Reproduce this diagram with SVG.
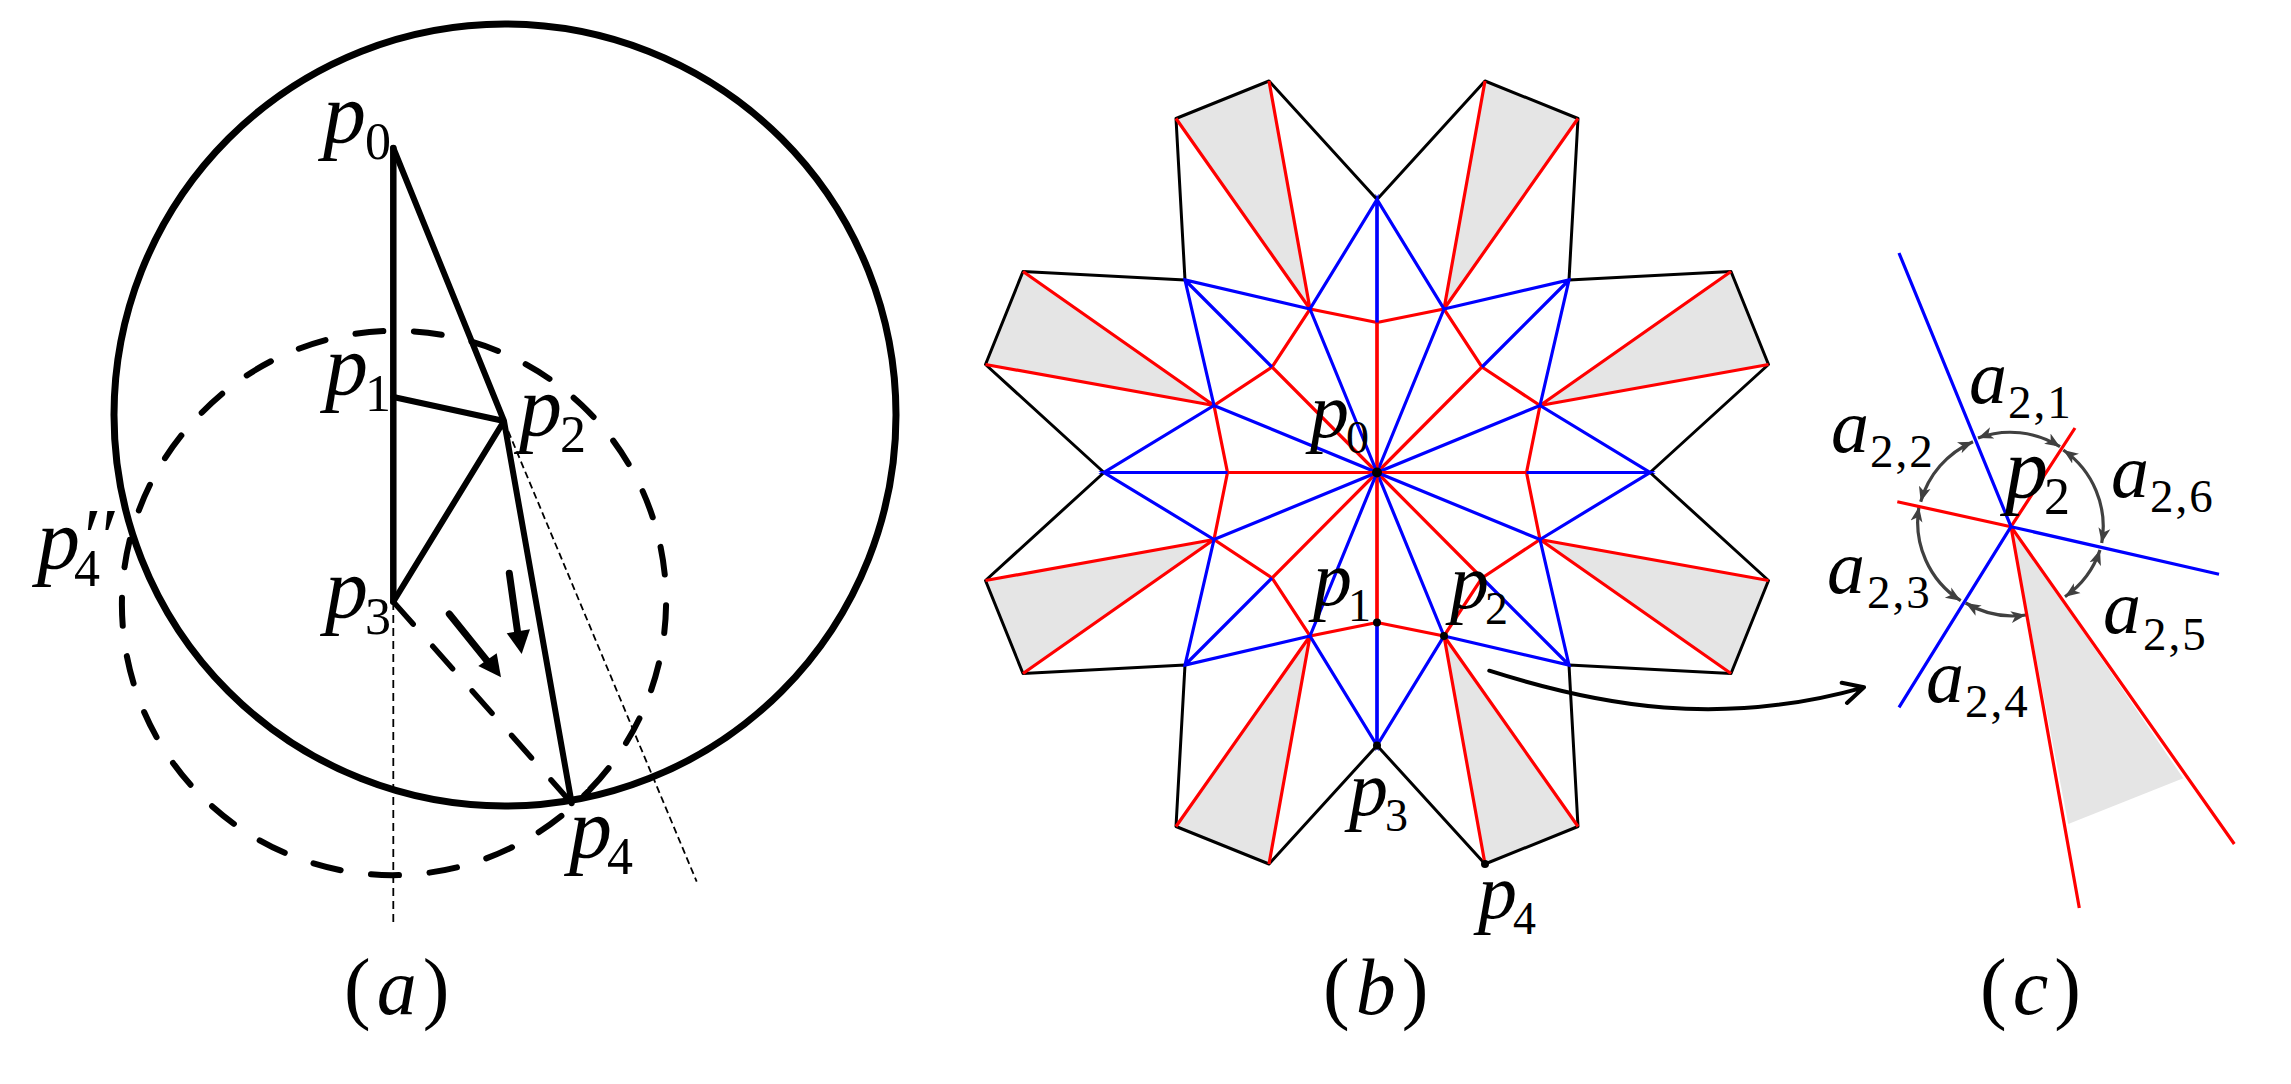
<svg xmlns="http://www.w3.org/2000/svg" xmlns:xlink="http://www.w3.org/1999/xlink" width="2291" height="1084" viewBox="0 0 2291 1084">
<style>
text{font-family:"Liberation Serif",serif;fill:#000}
.l{font-size:86px;font-style:italic}
.lb{font-size:78px;font-style:italic}
.s{font-size:52px;font-style:normal}
.sb{font-size:46px;font-style:normal}
.a{font-size:76px;font-style:italic}
.sa{font-size:47px;letter-spacing:2px;font-style:normal}
.pr{font-size:80px;font-style:italic}
.cap{font-size:80px;letter-spacing:6px}
.cap tspan{font-style:italic}
.k{fill:none;stroke:#000;stroke-linecap:round;stroke-linejoin:round}
.bk{fill:none;stroke:#000;stroke-width:3;stroke-linejoin:round}
.rd{fill:none;stroke:#f00;stroke-width:3.2}
.bl{fill:none;stroke:#00f;stroke-width:3.2}
.gr{fill:#e5e5e5;stroke:none}
.arc{fill:none;stroke:#404040;stroke-width:3.2;marker-start:url(#ah);marker-end:url(#ah)}
.dot{fill:#000}
</style>
<defs>
<marker id="ah" markerUnits="userSpaceOnUse" markerWidth="16" markerHeight="14" refX="15" refY="7" orient="auto-start-reverse"><path d="M15 7 L0 1 L4 7 L0 13 Z" fill="#404040"/></marker>
<g id="quad">
<polygon class="gr" points="67,-163.5 108,-391.5 201,-354"/>
<polygon class="gr" points="163,-67 354,-201 391.5,-108"/>
<path class="bk" d="M0 -273 L108 -391.5 L201 -354 L192 -192.5 L354 -201 L391.5 -108 L273 0"/>
<path class="rd" d="M67 -163.5 L108 -391.5 M67 -163.5 L201 -354 M163 -67 L354 -201 M163 -67 L391.5 -108 M0 0 L105 -105.5 L67 -163.5 L0 -150 L0 0 M105 -105.5 L163 -67 L149.5 0 L0 0"/>
<path class="bl" d="M0 -150 L0 -273 L67 -163.5 L0 0 L163 -67 L273 0 L149.5 0 M67 -163.5 L192 -192.5 L163 -67 M105 -105.5 L192 -192.5"/>
</g>
</defs>

<g id="panel-a">
<circle class="k" cx="505" cy="415" r="391" stroke-width="7"/>
<path class="k" stroke-width="6" stroke-dasharray="28 30.6" d="M590.2 789.2 A270.5 270.5 0 1 0 197.8 416.8 A270.5 270.5 0 1 0 590.2 789.2"/>
<path class="k" stroke-width="5.5" stroke-dasharray="30 29.5" d="M393.3 601.7 L571.7 803.3"/>
<path d="M393.3 602 L393.3 925" fill="none" stroke="#000" stroke-width="1.8" stroke-dasharray="8 5"/>
<path d="M504 421 L696.7 881.7" fill="none" stroke="#000" stroke-width="1.8" stroke-dasharray="7 4"/>
<path class="k" stroke-width="6.5" d="M393.3 148 L393.3 601.7"/>
<path class="k" stroke-width="6" d="M393.3 148 L504 421 L393.3 601.7 M393.3 397 L504 421 L571.7 803.3"/>
<path class="k" stroke-width="7" stroke-linecap="butt" d="M449.3 614 L488 662 M509.3 573.3 L518 635"/>
<polygon points="501,677.3 478.3,666 496.7,653.3"/>
<polygon points="521.7,654 506.7,633.3 530,629.3"/>
<text class="l" x="323" y="142">p<tspan class="s" x="365" dy="17">0</tspan></text>
<text class="l" x="325" y="394">p<tspan class="s" x="365" dy="17">1</tspan></text>
<text class="l" x="519" y="435">p<tspan class="s" x="560" dy="17">2</tspan></text>
<text class="l" x="325" y="617">p<tspan class="s" x="365" dy="17">3</tspan></text>
<text class="l" x="569" y="857">p<tspan class="s" x="607" dy="17">4</tspan></text>
<text class="l" x="37" y="568">p<tspan class="s" x="74" dy="18">4</tspan></text>
<text class="pr" x="79" y="564">′′</text>
<text class="cap" x="344" y="1014">(<tspan>a</tspan>)</text>
</g>

<g id="panel-b">
<use xlink:href="#quad" href="#quad" transform="translate(1377 472.5)"/>
<use xlink:href="#quad" href="#quad" transform="translate(1377 472.5) scale(-1 1)"/>
<use xlink:href="#quad" href="#quad" transform="translate(1377 472.5) scale(1 -1)"/>
<use xlink:href="#quad" href="#quad" transform="translate(1377 472.5) scale(-1 -1)"/>
<circle class="dot" cx="1377" cy="472.5" r="5"/>
<circle class="dot" cx="1377" cy="622.5" r="4"/>
<circle class="dot" cx="1444" cy="636" r="4"/>
<circle class="dot" cx="1377" cy="745.5" r="4"/>
<circle class="dot" cx="1485" cy="864" r="4"/>
<text class="lb" x="1310" y="437">p<tspan class="sb" x="1346" dy="16">0</tspan></text>
<text class="lb" x="1313" y="605">p<tspan class="sb" x="1348" dy="16">1</tspan></text>
<text class="lb" x="1450" y="608">p<tspan class="sb" x="1485" dy="16">2</tspan></text>
<text class="lb" x="1349" y="815">p<tspan class="sb" x="1385" dy="16">3</tspan></text>
<text class="lb" x="1478" y="918">p<tspan class="sb" x="1513" dy="16">4</tspan></text>
<text class="cap" x="1323" y="1014">(<tspan>b</tspan>)</text>
</g>

<g id="connector">
<path class="k" stroke-width="4" d="M1489.3 670.7 C1600 706 1720 728 1864 687.3 M1841.7 682.7 L1864 687.3 L1847 703"/>
</g>

<g id="panel-c">
<polygon class="gr" points="2011,526.7 2068.3,824 2183.3,778.3"/>
<path class="arc" d="M1978 438 A93 93 0 0 1 2060 446.7"/>
<path class="arc" d="M1973 441.7 A93 93 0 0 0 1920.7 501.7"/>
<path class="arc" d="M1919 506.7 A93 93 0 0 0 1960.7 600.7"/>
<path class="arc" d="M1965.7 603 A93 93 0 0 0 2026 615"/>
<path class="arc" d="M2065 596.7 A93 93 0 0 0 2100 550"/>
<path class="arc" d="M2101.7 543 A93 93 0 0 0 2063.3 450"/>
<path class="rd" d="M2011 526.7 L2075 428 M2011 526.7 L1897.3 501.7 M2011 526.7 L2079.3 908 M2011 526.7 L2234.3 844"/>
<path class="bl" d="M2011 526.7 L1899 253 M2011 526.7 L2219 574.3 M2011 526.7 L1899 707.3"/>
<text class="l" x="2005" y="497">p<tspan class="s" x="2044" dy="17">2</tspan></text>
<text class="a" x="1969" y="403">a<tspan class="sa" x="2008" dy="15">2,1</tspan></text>
<text class="a" x="1831" y="452">a<tspan class="sa" x="1870" dy="15">2,2</tspan></text>
<text class="a" x="2111" y="497">a<tspan class="sa" x="2150" dy="15">2,6</tspan></text>
<text class="a" x="1827" y="593">a<tspan class="sa" x="1867" dy="15">2,3</tspan></text>
<text class="a" x="2103" y="633">a<tspan class="sa" x="2143" dy="17">2,5</tspan></text>
<text class="a" x="1926" y="702">a<tspan class="sa" x="1965" dy="15">2,4</tspan></text>
<text class="cap" x="1980" y="1014">(<tspan>c</tspan>)</text>
</g>
</svg>
